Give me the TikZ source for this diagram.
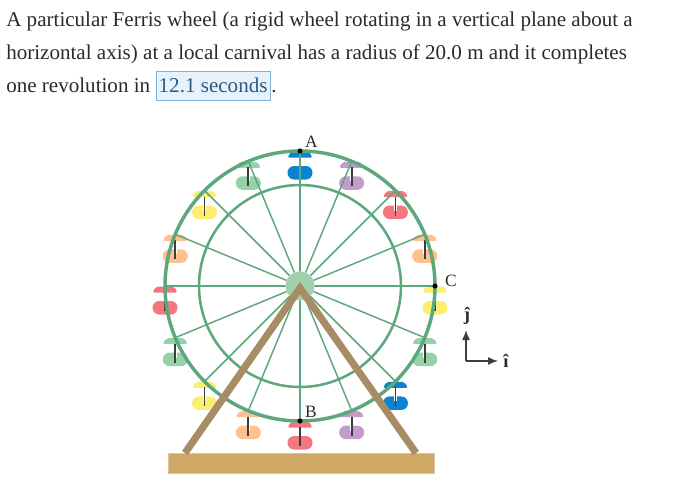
\documentclass[tikz,border=0pt]{standalone}
\usepackage{fontspec}
\setmainfont{Liberation Serif}
\usetikzlibrary{calc,arrows.meta}
\definecolor{rimgreen}{HTML}{5CA87C}
\definecolor{hubgreen}{HTML}{9FD1AC}
\definecolor{legbrown}{HTML}{A88C66}
\definecolor{basetan}{HTML}{CFA963}
\definecolor{baseline}{HTML}{DCC69A}
\definecolor{boxblue}{HTML}{E6F2FC}
\definecolor{boxline}{HTML}{7FB0D6}
\definecolor{boxtext}{HTML}{2C5A80}
\definecolor{textgray}{HTML}{2B2B2B}
\definecolor{barblack}{HTML}{3C3C40}
\definecolor{cblue}{HTML}{0A84D2}
\definecolor{cpurple}{HTML}{C49CCB}
\definecolor{cred}{HTML}{F4777F}
\definecolor{corange}{HTML}{FFC08E}
\definecolor{cyellow}{HTML}{FCEE6E}
\definecolor{cgreen}{HTML}{97D1A9}
\tikzset{
  textline/.style={anchor=base west,inner sep=0pt,text=textgray,font=\fontsize{15.8pt}{18pt}\selectfont},
  letter/.style={inner sep=0pt,text=textgray,font=\fontsize{13pt}{15pt}\selectfont},
  axislabel/.style={inner sep=0pt,text=textgray,font=\bfseries\fontsize{14pt}{16pt}\selectfont},
  dot/.style={draw,circle,inner sep=1.2pt,fill=black},
  spoke/.style={rimgreen,line width=1.1pt},
  rim/.style={rimgreen,line width=2.6pt},
  leg/.style={legbrown,line width=5.4pt},
  axisarrow/.style={barblack,line width=1.1pt,-{Latex[length=7.5pt,width=6pt]}},
}
\begin{document}
\begin{tikzpicture}[x=0.75pt,y=0.75pt]
  \useasboundingbox (0,0) rectangle (686,494);
  \coordinate (hub) at (300,208);
  % cabins first, the wheel goes over them
  \foreach \n/\a/\c in {A/90/cblue,b/67.5/cpurple,d/45/cred,e/22.5/corange,C/0/cyellow,f/-22.5/cgreen,
      g/-45/cblue,h/-67.5/cpurple,B/-90/cred,k/-112.5/corange,l/-135/cyellow,m/-157.5/cgreen,
      n/180/cred,o/157.5/corange,p/135/cyellow,q/112.5/cgreen}{%
    \coordinate (top\n) at ($(hub)+(\a:135)$);
    \fill[\c,rounded corners=1.5pt] ($(top\n)+(-12.5,-6.5)$) -- ($(top\n)+(-9,-0.5)$) -- ($(top\n)+(9,-0.5)$) -- ($(top\n)+(12.5,-6.5)$) -- cycle;
    \fill[\c,rounded corners=5pt] ($(top\n)+(-12.5,-15)$) rectangle ($(top\n)+(12.5,-28.5)$);
    \draw[white,line width=2.2pt] ($(top\n)+(0,-6.5)$) -- ($(top\n)+(0,-20)$);
    \draw[barblack,line width=1.4pt] ($(top\n)+(0,-6)$) -- ($(top\n)+(0,-25)$);
  }
  \foreach \a in {0,22.5,...,337.5}
    \draw[spoke] (hub) -- ($(hub)+(\a:135)$);
  \draw[rim] (hub) circle (135);
  \draw[rimgreen,line width=1.9pt] (hub) circle (101);
  \node[circle,fill=hubgreen,draw=hubgreen!80!white,minimum size=21.5pt,inner sep=0pt] (axle) at (hub) {};
  % stand
  \node[draw=baseline,fill=basetan,minimum width=199.5pt,minimum height=15pt,inner sep=0pt] (base) at (301,31) {};
  \coordinate (apex) at (300,206);
  \coordinate (footl) at (185,41);
  \coordinate (footr) at (416,41);
  \draw[leg,line join=miter] (footl) -- (apex) -- (footr);
  \node[dot] (dotA) at (topA) {};
  \node[dot] (dotB) at (topB) {};
  \node[dot] (dotC) at (topC) {};
  \node[letter] (labelA) at (311.5,352) {A};
  \node[letter] (labelB) at (311,82) {B};
  \node[letter] (labelC) at (451,213) {C};
  % unit vectors
  \coordinate (origin) at (466,133);
  \coordinate (tipi) at (498,133);
  \coordinate (tipj) at (466,164);
  \draw[axisarrow] (origin) -- (tipi);
  \draw[axisarrow] (origin) -- (tipj);
  \node[axislabel] (labeli) at (506,133) {î};
  \node[axislabel] (labelj) at (467,178) {ĵ};
  % question text
  \node[textline] (lineone) at (6,467) {A particular Ferris wheel (a rigid wheel rotating in a vertical plane about a};
  \node[textline] (linetwo) at (6,435) {horizontal axis) at a local carnival has a radius of 20.0 m and it completes};
  \node[textline] (linethree) at (6,402) {one revolution in};
  \node[anchor=base west,inner sep=0pt,text=boxtext,font=\fontsize{15.8pt}{18pt}\selectfont,fill=boxblue,draw=boxline,
    text height=15.7pt,text depth=6.3pt,inner xsep=2.2pt] (answer) at (155.5,402) {12.1 seconds};
  \node[textline,anchor=base west] (period) at (271,402) {.};
\end{tikzpicture}
\end{document}
